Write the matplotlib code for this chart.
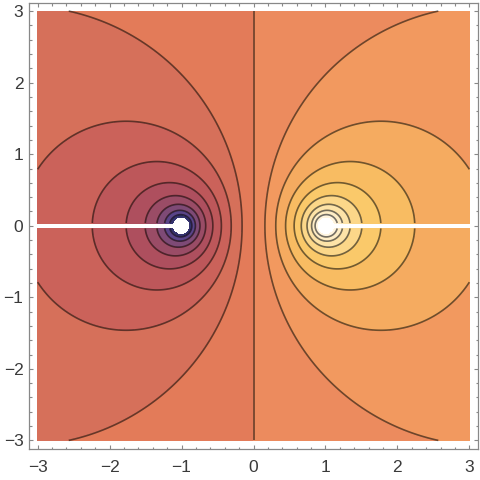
import numpy as np
import matplotlib
matplotlib.use("Agg")
import matplotlib.pyplot as plt

# Contour levels (Re ArcTanh(x + i y)), clipped at +-1.4
contour_levels = [-1.28, -1.12, -0.96, -0.80, -0.64, -0.48, -0.32, -0.16, 0.0,
                  0.16, 0.32, 0.48, 0.64, 0.80, 0.96, 1.12, 1.28]
clip_value = 1.4
band_colors = ["#35336E", "#5A4488", "#7E4A76", "#9A4C66", "#AE4F5E", "#BD575A",
               "#CB625A", "#D6705A", "#E37B59",
               "#EC8B5E", "#F2995F", "#F5AB60", "#F8BC62", "#FAC96A", "#FCD789",
               "#FDE3A8", "#FEEDC6", "#FFF5DF"]
ticks = [-3, -2, -1, 0, 1, 2, 3]
tick_labels = ["\u22123", "\u22122", "\u22121", "0", "1", "2", "3"]
cut_half_width = 0.035

# Grid and function
x = np.linspace(-3, 3, 801)
y = np.linspace(-3, 3, 801)
X, Y = np.meshgrid(x, y)
with np.errstate(divide="ignore", invalid="ignore"):
    Z = 0.5 * np.log(np.hypot(X + 1, Y) / np.hypot(X - 1, Y))
Z = np.ma.masked_invalid(Z)
# branch cut on the real axis for |x| > 1 is left blank
Z = np.ma.masked_where((np.abs(Y) < cut_half_width) & (np.abs(X) > 1), Z)

fill_levels = [-clip_value] + contour_levels + [clip_value]

fig = plt.figure(figsize=(4.8, 4.8), dpi=100)
ax = fig.add_axes([29 / 480, 31 / 480, 449 / 480, 446.5 / 480])
ax.contourf(X, Y, Z, levels=fill_levels, colors=band_colors)
ax.contour(X, Y, Z, levels=contour_levels, colors="black", alpha=0.55,
           linewidths=1.2, linestyles="solid")

lim = 3.12
ax.set_xlim(-lim, lim)
ax.set_ylim(-lim, lim)

ax.set_xticks(ticks)
ax.set_yticks(ticks)
ax.set_xticklabels(tick_labels)
ax.set_yticklabels(tick_labels)
ax.set_xticks(np.arange(-3, 3.01, 0.2), minor=True)
ax.set_yticks(np.arange(-3, 3.01, 0.2), minor=True)
ax.tick_params(which="both", direction="in", top=True, right=True,
               color="#888888", width=0.8)
ax.tick_params(which="major", length=3.2, labelsize=12.5, labelcolor="#3a3a3a")
ax.tick_params(which="minor", length=1.8)
ax.tick_params(axis="x", pad=8)
ax.tick_params(axis="y", pad=4)
for label in ax.get_xticklabels() + ax.get_yticklabels():
    label.set_family("Liberation Sans")
for s in ax.spines.values():
    s.set_color("#888888")
    s.set_linewidth(0.9)

fig.savefig("out.png", dpi=100)
